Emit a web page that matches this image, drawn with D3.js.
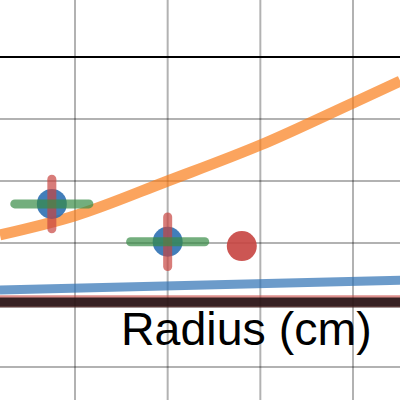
<!DOCTYPE html>
<html>
<head>
<meta charset="utf-8">
<script src="https://cdn.jsdelivr.net/npm/d3@7.9.0/dist/d3.min.js"></script>
<style>
  html, body { margin: 0; padding: 0; background: #fff; }
  svg { display: block; }
</style>
</head>
<body>
<svg id="chart" width="400" height="400"></svg>
<script>
// grid values (the view is zoomed in, so no tick numbers show)
const xGrid = [1, 2, 3, 4];
const yGrid = [-1, 0, 1, 2, 3, 4];

// measured points with error bars
const pointX = [0.75, 2.0];
const pointY = [1.63, 1.02];
const errX = [0.4, 0.4];
const errY = [0.4, 0.4];

// lone red point
const redX = [2.8];
const redY = [0.95];

// orange fitted curve
const curveX = [0.19, 1, 2, 3, 4, 4.51];
const curveY = [1.13, 1.44, 2.0, 2.58, 3.26, 3.61];

// blue straight line
const lineX = [0.19, 4.51];
const lineY = [0.24, 0.40];

// dark red curve lying on the axis
const lowX = [0.19, 4.51];
const lowY = [0.06, 0.06];

const axisLabel = 'Radius (cm)';

const svg = d3.select('#chart');
const width = 400, height = 400;

let x = d3.scaleLinear().domain([1, 4]).range([75, 353]);
let y = d3.scaleLinear().domain([0, 4]).range([305, 57]);

// grid
svg.append('g')
  .selectAll('line')
  .data(xGrid)
  .join('line')
  .attr('x1', d => x(d)).attr('x2', d => x(d))
  .attr('y1', 0).attr('y2', height)
  .attr('stroke', '#000').attr('stroke-opacity', 0.3).attr('stroke-width', 2);

svg.append('g')
  .selectAll('line')
  .data(yGrid.filter(d => d !== 0 && d !== 4))
  .join('line')
  .attr('x1', 0).attr('x2', width)
  .attr('y1', d => y(d)).attr('y2', d => y(d))
  .attr('stroke', '#000').attr('stroke-opacity', 0.3).attr('stroke-width', 2);

// black horizontal line at the top
svg.append('line')
  .attr('x1', 0).attr('x2', width)
  .attr('y1', y(4)).attr('y2', y(4))
  .attr('stroke', '#000').attr('stroke-width', 2);

let line = d3.line().x(d => x(d[0])).y(d => y(d[1]));

// dark band: red curve over the x-axis
svg.append('path')
  .attr('d', line(d3.zip(lowX, lowY)))
  .attr('fill', 'none')
  .attr('stroke', '#c74440').attr('stroke-opacity', 0.6).attr('stroke-width', 12);

svg.append('line')
  .attr('x1', 0).attr('x2', width)
  .attr('y1', y(0) - 3).attr('y2', y(0) - 3)
  .attr('stroke', '#1a0e10').attr('stroke-opacity', 0.85).attr('stroke-width', 9);

svg.append('line')
  .attr('x1', 0).attr('x2', width)
  .attr('y1', y(0) + 2).attr('y2', y(0) + 2)
  .attr('stroke', '#000').attr('stroke-opacity', 0.35).attr('stroke-width', 2);

// blue line
svg.append('path')
  .attr('d', line(d3.zip(lineX, lineY)))
  .attr('fill', 'none')
  .attr('stroke', '#2d70b3').attr('stroke-opacity', 0.7).attr('stroke-width', 9);

// orange curve
svg.append('path')
  .attr('d', line.curve(d3.curveMonotoneX)(d3.zip(curveX, curveY)))
  .attr('fill', 'none')
  .attr('stroke', '#fa7e19').attr('stroke-opacity', 0.7).attr('stroke-width', 11);

// points with error bars
let pts = d3.range(pointX.length);

svg.append('g')
  .selectAll('circle')
  .data(pts)
  .join('circle')
  .attr('cx', i => x(pointX[i])).attr('cy', i => y(pointY[i]))
  .attr('r', 15)
  .attr('fill', '#2d70b3').attr('fill-opacity', 0.9);

svg.append('g')
  .selectAll('line')
  .data(pts)
  .join('line')
  .attr('x1', i => x(pointX[i])).attr('x2', i => x(pointX[i]))
  .attr('y1', i => y(pointY[i] - errY[i])).attr('y2', i => y(pointY[i] + errY[i]))
  .attr('stroke', '#c74440').attr('stroke-opacity', 0.7)
  .attr('stroke-width', 9).attr('stroke-linecap', 'round');

svg.append('g')
  .selectAll('line')
  .data(pts)
  .join('line')
  .attr('x1', i => x(pointX[i] - errX[i])).attr('x2', i => x(pointX[i] + errX[i]))
  .attr('y1', i => y(pointY[i])).attr('y2', i => y(pointY[i]))
  .attr('stroke', '#388c46').attr('stroke-opacity', 0.7)
  .attr('stroke-width', 9).attr('stroke-linecap', 'round');

// red point
svg.append('g')
  .selectAll('circle')
  .data(d3.range(redX.length))
  .join('circle')
  .attr('cx', i => x(redX[i])).attr('cy', i => y(redY[i]))
  .attr('r', 15)
  .attr('fill', '#c74440').attr('fill-opacity', 0.9);

// axis label
svg.append('text')
  .attr('x', 121)
  .attr('y', 345)
  .attr('font-family', 'Liberation Sans, Arial, sans-serif')
  .attr('font-size', 46.5)
  .attr('fill', '#000')
  .text(axisLabel);
</script>
</body>
</html>
